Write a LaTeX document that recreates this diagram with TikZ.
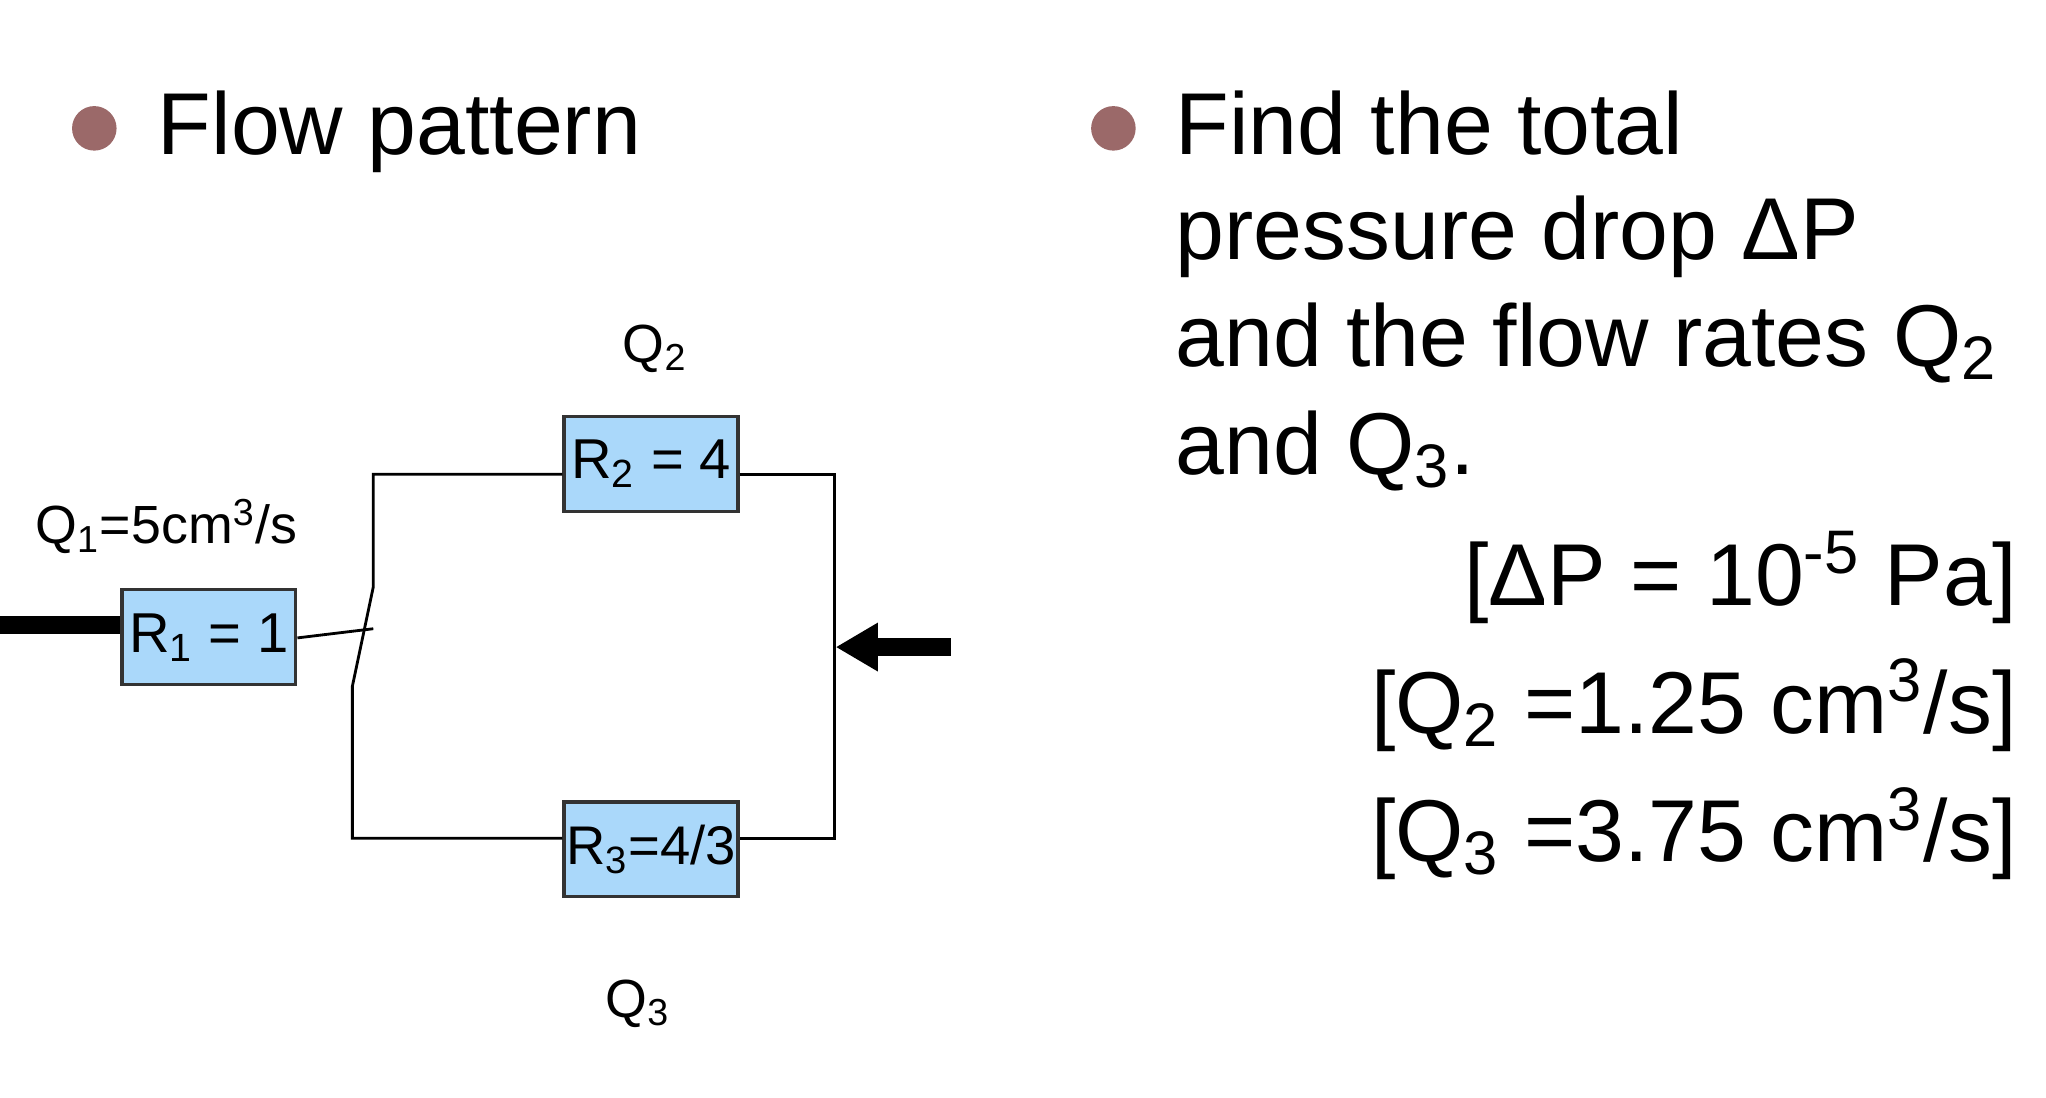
\documentclass[tikz,border=0pt]{standalone}
\usepackage{fontspec}
\setmainfont{Liberation Sans}
\usetikzlibrary{arrows.meta}
\definecolor{bul}{RGB}{155,105,105}
\definecolor{boxc}{RGB}{170,216,250}
\begin{document}
\begin{tikzpicture}[x=0.0131cm,y=-0.0131cm,
  big/.style={font=\fontsize{25}{29}\selectfont,inner sep=0},
  lab/.style={font=\fontsize{15.3}{17}\selectfont,inner sep=0},
  res/.style={draw=black!80,line width=0.9pt,fill=boxc,minimum width=1.74cm,minimum height=0.95cm,inner sep=0,font=\fontsize{16}{18}\selectfont},
  wire/.style={line width=0.8pt}]
\useasboundingbox (0,0) rectangle (1562,838);
\fill[bul] (72,98) circle (17);
\fill[bul] (850,98) circle (17);
\node[big,anchor=base west] (t1) at (120,118) {Flow pattern};
\node[big,anchor=base west] (r1) at (897,118) {Find the total};
\node[big,anchor=base west] (r2) at (897,198) {pressure drop ΔP};
\node[big,anchor=base west] (r3) at (897,280) {and the flow rates Q\textsubscript{2}};
\node[big,anchor=base west] (r4) at (897,362) {and Q\textsubscript{3}.};
\node[big,anchor=base east] (a1) at (1540,462) {[ΔP = 10\textsuperscript{-5} Pa]};
\node[big,anchor=base east] (a2) at (1540,560) {[Q\textsubscript{2} =1.25 cm\textsuperscript{3}/s]};
\node[big,anchor=base east] (a3) at (1540,658) {[Q\textsubscript{3} =3.75 cm\textsuperscript{3}/s]};

\node[res] (R1) at (159.5,486.5) {R\textsubscript{1} = 1};
\node[res] (R2) at (497,354) {R\textsubscript{2} = 4};
\node[res,font=\fontsize{15.5}{18}\selectfont] (R3) at (497,648.5) {R\textsubscript{3}=4/3};
\node[lab] (q1) at (127,402) {Q\textsubscript{1}=5cm\textsuperscript{3}/s};
\node[lab] (q2) at (500,266) {Q\textsubscript{2}};
\node[lab] (q3) at (487,766) {Q\textsubscript{3}};

\coordinate (tl) at (285,362); \coordinate (tr) at (637,362);
\coordinate (bl) at (269,640); \coordinate (br) at (637,640);
\coordinate (k1) at (285,448); \coordinate (k2) at (269,524);
\coordinate (j) at (285,480);
\coordinate (in) at (0,477);
\coordinate (as) at (726,494); \coordinate (ae) at (638,494);
\draw[wire] (R2.west |- tl) -- (tl) -- (k1) -- (k2) -- (bl) -- (R3.west |- bl);
\draw[wire] (R2.east |- tr) -- (tr) -- (br) -- (R3.east |- br);
\draw[wire] (R1.east |- 0,487) -- (j);
\draw[line width=5pt] (in) -- (R1.west |- in);
\draw[line width=5pt,-{Triangle[length=12pt,width=13pt]}] (as) -- (ae);
\end{tikzpicture}
\end{document}
